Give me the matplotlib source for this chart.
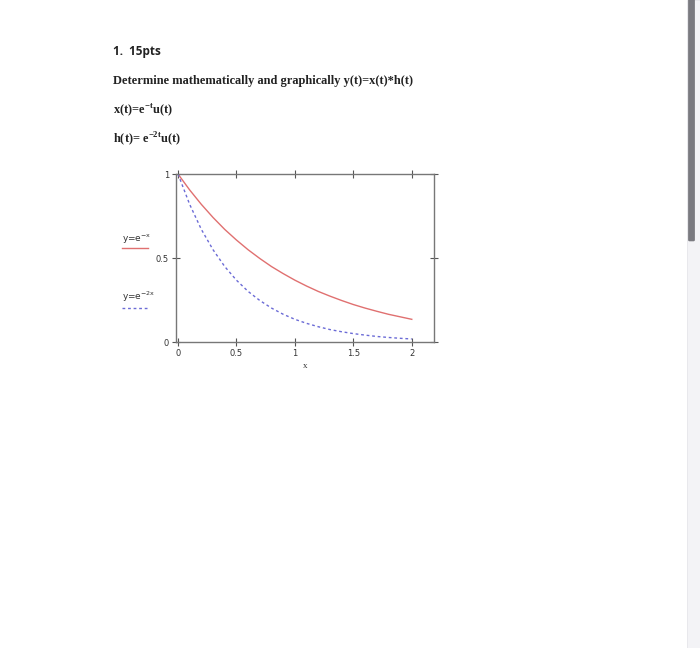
import matplotlib.pyplot as plt
from matplotlib.patches import Rectangle, FancyBboxPatch

# values
x_vals = [0.0, 0.1, 0.2, 0.3, 0.4, 0.5, 0.6, 0.7, 0.8, 0.9, 1.0,
          1.1, 1.2, 1.3, 1.4, 1.5, 1.6, 1.7, 1.8, 1.9, 2.0]
y_ex = [1.0, 0.905, 0.819, 0.741, 0.670, 0.607, 0.549, 0.497, 0.449, 0.407, 0.368,
        0.333, 0.301, 0.273, 0.247, 0.223, 0.202, 0.183, 0.165, 0.150, 0.135]
y_e2x = [1.0, 0.819, 0.670, 0.549, 0.449, 0.368, 0.301, 0.247, 0.202, 0.165, 0.135,
         0.111, 0.091, 0.074, 0.061, 0.050, 0.041, 0.033, 0.027, 0.022, 0.018]
x_ticks = [0, 0.5, 1, 1.5, 2]
x_ticklabels = ['0', '0.5', '1', '1.5', '2']
y_ticks = [0, 0.5, 1]
y_ticklabels = ['0', '0.5', '1']

red = '#e07070'
blue = '#6b6bd6'

fig = plt.figure(figsize=(7, 6.48), dpi=100)
fig.patch.set_facecolor('white')

# page text
serif = ['Liberation Serif', 'DejaVu Serif']
fig.text(113/700, 1-52/648, '1.  15pts', fontsize=8.5, fontweight='bold',
         family=['Open Sans', 'DejaVu Sans'], va='center', color='#222222')
fig.text(113/700, 1-81/648, 'Determine mathematically and graphically y(t)=x(t)*h(t)',
         fontsize=8.9, fontweight='bold', family=serif, va='center', color='#222222')
fig.text(113/700, 1-110/648, r'x(t)=e$^{\mathregular{-t}}$u(t)', fontsize=8.9,
         fontweight='bold', family=serif, va='center', color='#222222')
fig.text(113/700, 1-139/648, r'h(t)= e$^{\mathregular{-2t}}$u(t)', fontsize=8.9,
         fontweight='bold', family=serif, va='center', color='#222222')

# plot
ax = fig.add_axes([176/700, 1-342/648, 258/700, 168/648])
ax.plot(x_vals, y_ex, color=red, lw=1.0)
ax.plot(x_vals, y_e2x, color=blue, lw=1.0, ls=(0, (2, 2)))
ax.set_xlim(-0.017, 2.19)
ax.set_ylim(0, 1)
ax.set_xticks(x_ticks)
ax.set_xticklabels(x_ticklabels)
ax.set_yticks(y_ticks)
ax.set_yticklabels(y_ticklabels)
ax.tick_params(direction='inout', length=6, width=0.8, labelsize=6,
               top=True, right=True, color='#555555', labelcolor='#333333', pad=2)
for s in ax.spines.values():
    s.set_color('#777777')
    s.set_linewidth(1.0)
ax.set_xlabel('x', fontsize=6.5, family=serif, labelpad=3, color='#333333')

# legend labels on the left
fig.text(122/700, 1-238/648, r'y=e$^{\mathregular{-x}}$', fontsize=6.5, color='#333333', va='center')
fig.add_artist(plt.Line2D([122/700, 148/700], [1-248/648, 1-248/648], color=red, lw=1.0))
fig.text(122/700, 1-297/648, r'y=e$^{\mathregular{-2x}}$', fontsize=6.5, color='#333333', va='center')
fig.add_artist(plt.Line2D([122/700, 148/700], [1-308/648, 1-308/648], color=blue, lw=1.0,
                          ls=(0, (2, 2))))

# scrollbar of the screenshot
fig.add_artist(Rectangle((687/700, 0), 13/700, 1, transform=fig.transFigure,
                         facecolor='#f3f3f6', edgecolor='#e2e2e6', lw=0.5))
fig.add_artist(FancyBboxPatch((689.5/700, 1-240/648), 4/700, 240/648,
                              boxstyle='round,pad=0.002', transform=fig.transFigure,
                              facecolor='#7a7a80', edgecolor='none'))

fig.savefig('out.png', dpi=100)
